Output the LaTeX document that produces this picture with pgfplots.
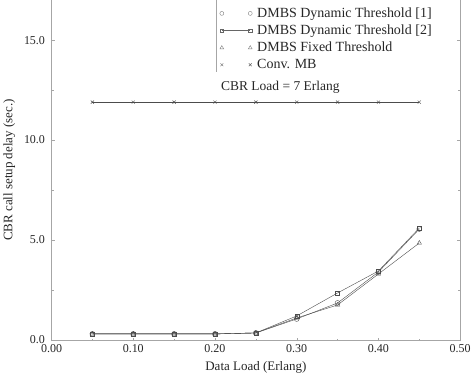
\documentclass[border=0pt]{standalone}
\usepackage{fontspec}
\setmainfont{Liberation Serif}
\usepackage{pgfplots}
\pgfplotsset{compat=1.18}
\begin{document}
\begin{tikzpicture}
\begin{axis}[
  scale only axis,
  width=409pt, height=340pt,
  xmin=0, xmax=0.5, ymin=0, ymax=17,
  axis x line=bottom, axis y line=box,
  x axis line style={-, gray!70},
  y axis line style={gray!70},
  xtick={0,0.1,0.2,0.3,0.4,0.5},
  ytick={0,5,10,15},
  minor x tick num=1, minor y tick num=1,
  tick style={gray!70},
  major tick length=3pt, minor tick length=2pt,
  /pgf/number format/assume math mode=true,
  ticklabel style={font=\fontsize{12}{14}\selectfont, text=black!85},
  xticklabel style={/pgf/number format/.cd, fixed, fixed zerofill, precision=2},
  yticklabel style={xshift=-3pt, /pgf/number format/.cd, fixed, fixed zerofill, precision=1},
  label style={font=\fontsize{13}{15}\selectfont, text=black!85},
  xlabel={Data Load (Erlang)},
  ylabel={CBR call setup delay (sec.)},
  xlabel style={yshift=-2pt},
  ylabel style={yshift=2pt},
  legend cell align=left,
  legend style={at={(0.404,0.99)}, anchor=north west, draw=none, fill=none,
    font=\fontsize{14}{15}\selectfont, text=black!85, row sep=2pt,
    /tikz/every odd column/.append style={column sep=3pt}},
  legend image code/.code={\draw[mark repeat=2, mark phase=1, #1] plot coordinates {(0cm,0cm) (0.5cm,0cm) (1cm,0cm)};},
]
\addlegendimage{only marks, mark=o, mark size=2pt, gray}
\addlegendentry{DMBS Dynamic Threshold [1]}
\addlegendimage{gray!80!black, thin, mark=square, mark size=1.8pt}
\addlegendentry{DMBS Dynamic Threshold [2]}
\addlegendimage{only marks, mark=triangle, mark size=2.2pt, gray}
\addlegendentry{DMBS Fixed Threshold}
\addlegendimage{only marks, mark=x, mark size=2pt, gray!80!black}
\addlegendentry{Conv. MB}

\addplot[forget plot, gray!60!black, thin, mark=o, mark size=2.5pt] coordinates {
(0.05,0.3) (0.10,0.3) (0.15,0.3) (0.20,0.3) (0.25,0.35) (0.30,1.05) (0.35,1.85) (0.40,3.4) (0.45,5.55)};
\addplot[forget plot, gray!60!black, thin, mark=square, mark size=2pt] coordinates {
(0.05,0.3) (0.10,0.3) (0.15,0.3) (0.20,0.3) (0.25,0.35) (0.30,1.2) (0.35,2.35) (0.40,3.45) (0.45,5.6)};
\addplot[forget plot, gray!60!black, thin, mark=triangle, mark size=2.5pt] coordinates {
(0.05,0.3) (0.10,0.3) (0.15,0.3) (0.20,0.3) (0.25,0.35) (0.30,1.1) (0.35,1.75) (0.40,3.3) (0.45,4.85)};
\addplot[forget plot, gray!60!black, thin, mark=x, mark size=2.2pt] coordinates {
(0.05,11.9) (0.10,11.9) (0.15,11.9) (0.20,11.9) (0.25,11.9) (0.30,11.9) (0.35,11.9) (0.40,11.9) (0.45,11.9)};

\draw[gray!70] (axis cs:0.2017,17) -- (axis cs:0.2017,13.4);
\node[font=\fontsize{13.5}{15}\selectfont, text=black!85] at (axis cs:0.28,12.65) {CBR Load = 7 Erlang};
\end{axis}
\end{tikzpicture}
\end{document}
